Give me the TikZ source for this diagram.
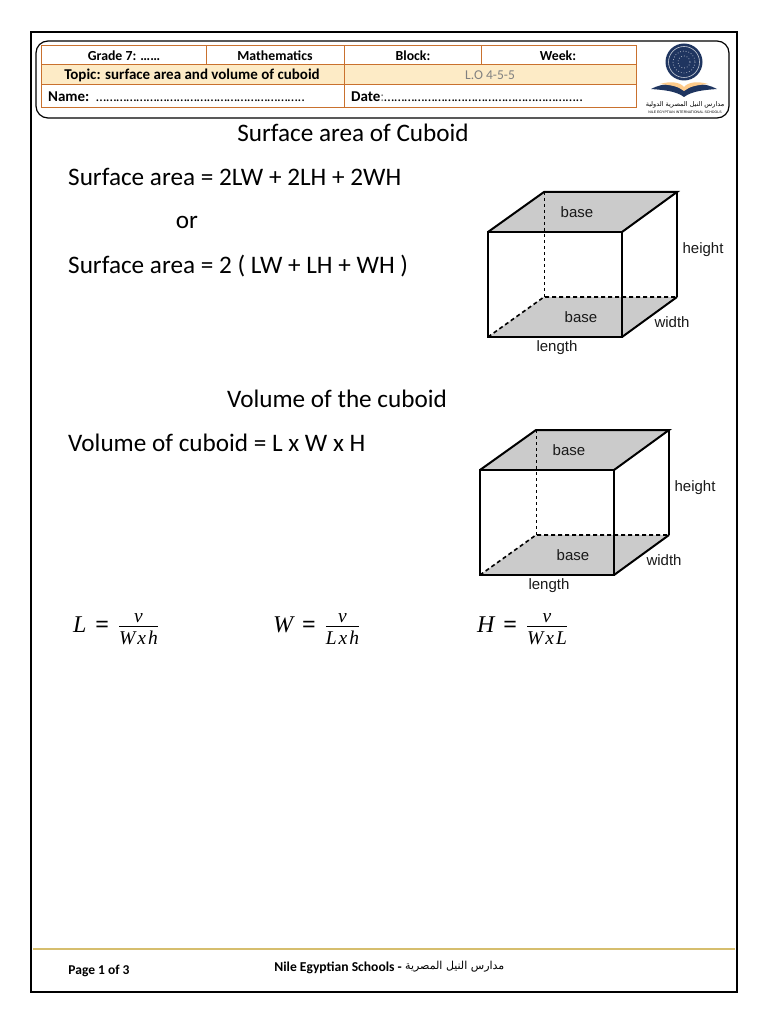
\documentclass[tikz,border=0pt]{standalone}
\usepackage{amsmath}
\usepackage{fontspec}
\setmainfont{Carlito}
\newfontfamily\labelfont{Liberation Sans}
\newfontfamily\formfont{Liberation Serif}
\newfontfamily\arabicfont[Script=Arabic]{DejaVu Sans}
\TeXXeTstate=1
\definecolor{cellline}{HTML}{C9712E}
\definecolor{cellfill}{HTML}{FDEBC6}
\definecolor{footline}{HTML}{D6BE6E}
\definecolor{logoblue}{HTML}{1F3560}
\definecolor{basegray}{HTML}{CBCBCB}
\newcommand{\fm}[1]{\text{\formfont\itshape #1}}
\newcommand{\fr}[1]{\mbox{\fontsize{19.5}{20}\selectfont\formfont\itshape\addfontfeature{LetterSpace=10}#1}}
\newcommand{\fq}[2]{\hspace{2pt}\mathrel{\text{\formfont\bfseries =}}\hspace{2pt}\frac{\fr{#1}}{\rule{0pt}{17pt}\fr{#2}}}
\tikzset{
	bigtext/.style={font=\fontsize{25.2}{28}\selectfont, inner sep=0pt},
	lefttext/.style={bigtext, anchor=west},
	celltext/.style={font=\fontsize{13.8}{16}\selectfont\bfseries, inner sep=0pt},
	widetext/.style={font=\fontsize{15}{18}\selectfont\bfseries, inner sep=0pt},
	dotstext/.style={font=\fontsize{14.6}{16}\selectfont, inner sep=0pt, anchor=base west},
	cublabel/.style={font=\labelfont\fontsize{15}{16}\selectfont, text=black!90, inner sep=0pt},
	formula/.style={font=\fontsize{24}{27}\selectfont, inner sep=0pt, anchor=mid west},
}
\begin{document}
\begin{tikzpicture}[x=1pt, y=-1pt]
	\useasboundingbox (0,0) rectangle (768,1024);
	\fill[white] (0,0) rectangle (768,1024);
	\draw[line width=2pt] (31,32) rectangle (737,992);
	\draw[line width=1.2pt, rounded corners=12pt] (36,41) rectangle (729,118);
	% header table
	\fill[cellfill] (41,65) rectangle (636,85);
	\draw[cellline, line width=1pt] (41,46) rectangle (636,108);
	\draw[cellline, line width=1pt] (41,65) -- (636,65);
	\draw[cellline, line width=1pt] (41,85) -- (636,85);
	\draw[cellline, line width=1pt] (344,46) -- (344,108);
	\draw[cellline, line width=1pt] (206,46) -- (206,65);
	\draw[cellline, line width=1pt] (481,46) -- (481,65);
	\foreach \i\j\k in {124/grade/{Grade 7: ……},275/subject/Mathematics,413/block/Block:,558/week/Week:}{
		\node[celltext] (\j) at (\i, 56) {\k};
	}
	\node[widetext] (topic) at (192, 75) {Topic: surface area and volume of cuboid};
	\node[widetext, font=\fontsize{13.5}{16}\selectfont, text=gray] (lo) at (490, 75) {L.O 4-5-5};
	\node[widetext, anchor=west] (name) at (48, 97) {Name:};
	\node[dotstext] (namedots) at (96, 102) {……………………………………………………..};
	\node[widetext, anchor=west] (date) at (351, 97) {Date{\mdseries\color{gray}:}};
	\node[dotstext] (datedots) at (384, 102) {…………………………………………………..};
	% logo
	\fill[logoblue] (684,62) circle (18.5);
	\draw[white!75!logoblue, line width=0.6pt] (684,62) circle (15.5);
	\draw[white!60!logoblue, line width=0.8pt, dotted] (684,62) circle (11);
	\draw[white!60!logoblue, line width=0.8pt, dotted] (684,62) circle (6);
	\fill[logoblue] (651,89) .. controls (664,82) and (679,83) .. (684,90) .. controls (689,83) and (704,82) .. (717,89) .. controls (704,90) and (692,91) .. (684,97) .. controls (676,91) and (664,90) .. (651,89) -- cycle;
	\fill[cellfill!70!orange] (660,84) .. controls (670,81) and (680,82) .. (684,87) .. controls (688,82) and (698,81) .. (708,84) .. controls (698,85) and (690,86) .. (684,91) .. controls (678,86) and (670,85) .. (660,84) -- cycle;
	\node[inner sep=0pt, font=\arabicfont\fontsize{6.5}{7}\selectfont] (logoar) at (685,105) {\beginR مدارس النيل المصرية الدولية\endR};
	\node[inner sep=0pt, font=\labelfont\fontsize{3.5}{4}\selectfont] (logoen) at (685,112) {NILE EGYPTIAN INTERNATIONAL SCHOOLS};
	% text
	\node[bigtext] (title) at (353,133) {Surface area of Cuboid};
	\node[lefttext] (area) at (68,177) {Surface area = 2LW + 2LH + 2WH};
	\node[bigtext] (or) at (187,222) {or};
	\node[lefttext] (areatwo) at (68,266) {Surface area = 2 ( LW + LH + WH )};
	\node[bigtext] (voltitle) at (337,399) {Volume of the cuboid};
	\node[lefttext] (vol) at (68,443) {Volume of cuboid = L x W x H};
	\node[formula] (fl) at (73,630) {$\fm{L}\fq{v}{Wxh}$};
	\node[formula] (fw) at (273,630) {$\fm{W}\fq{v}{Lxh}$};
	\node[formula] (fh) at (477,630) {$\fm{H}\fq{v}{WxL}$};
	% cuboids
	\foreach \i\j\k in {0/0/a,-8/238/b}{
		\begin{scope}[shift={(\i,\j)}]
			\fill[basegray] (488,232) -- (544,192) -- (677,192) -- (622,232) -- cycle;
			\fill[basegray] (488,337) -- (544,297) -- (677,297) -- (622,337) -- cycle;
			\draw[line width=1pt, dash pattern=on 3pt off 3pt] (544,192) -- (544,297);
			\draw[line width=1.6pt, dash pattern=on 4pt off 3pt] (488,337) -- (544,297) -- (677,297);
			\draw[line width=1.4pt] (677,192) -- (677,297);
			\draw[line width=2pt] (488,232) rectangle (622,337);
			\draw[line width=2pt] (488,232) -- (544,192) -- (677,192) -- (622,232);
			\draw[line width=2pt] (622,337) -- (677,297);
			\node[cublabel] (top\k) at (577,212) {base};
			\node[cublabel] (bottom\k) at (581,317) {base};
			\node[cublabel] (height\k) at (703,250) {height};
			\node[cublabel] (width\k) at (672,322) {width};
			\node[cublabel] (length\k) at (557,348) {length};
		\end{scope}
	}
	% footer
	\draw[footline, line width=1.2pt] (33,949) -- (735,949);
	\node[celltext, font=\fontsize{13.5}{14}\selectfont\bfseries] (page) at (99,971) {Page 1 of 3};
	\node[celltext, anchor=east, font=\fontsize{13.6}{14}\selectfont\bfseries] (school) at (402,968) {Nile Egyptian Schools -};
	\node[inner sep=0pt, anchor=west, font=\arabicfont\fontsize{11}{12}\selectfont] (schoolar) at (405,967) {\beginR مدارس النيل المصرية\endR};
\end{tikzpicture}
\end{document}
